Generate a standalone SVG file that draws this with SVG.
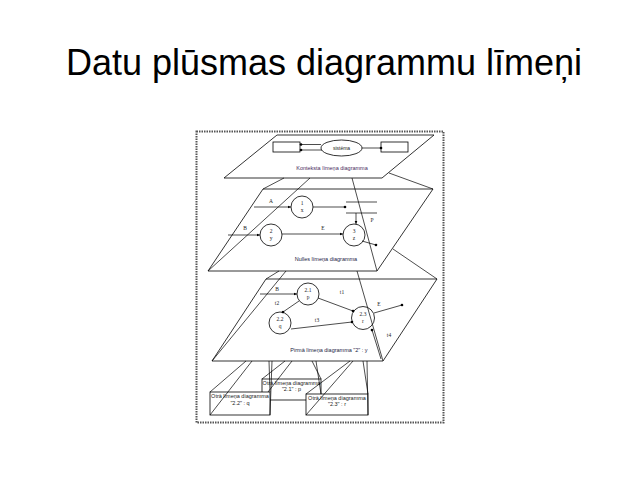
<svg xmlns="http://www.w3.org/2000/svg" width="638" height="478" viewBox="0 0 638 478">
<style>
.pl{fill:#fff;stroke:#000;stroke-width:0.8}
.bx{fill:#fff;stroke:#000;stroke-width:0.8}
.nd{fill:#fff;stroke:#000;stroke-width:0.8}
.ln{stroke:#000;stroke-width:0.7;fill:none}
.fl{stroke:#000;stroke-width:0.7;fill:none;marker-end:url(#ah)}
.fd{stroke:#000;stroke-width:0.7;fill:none;marker-end:url(#dot)}
.t{font-family:"Liberation Sans",Arial,sans-serif;font-size:5.5px;fill:#222;text-anchor:middle}
.s{font-family:"Liberation Serif","Times New Roman",serif;font-size:5.5px;fill:#222;text-anchor:middle}
</style>
<defs>
<marker id="ah" markerWidth="4" markerHeight="4" refX="3.5" refY="2" orient="auto" markerUnits="userSpaceOnUse"><path d="M0,0.5 L3.5,2 L0,3.5 Z" fill="#000"/></marker>
<marker id="dot" markerWidth="4" markerHeight="4" refX="2" refY="2" orient="auto" markerUnits="userSpaceOnUse"><circle cx="2" cy="2" r="1.3" fill="#000"/></marker>
</defs>
<rect width="638" height="478" fill="#fff"/>
<text x="324" y="75" font-family="Liberation Sans, Arial, sans-serif" font-size="36" text-anchor="middle" fill="#000">Datu plūsmas diagrammu līmeņi</text>
<rect id="frame" x="196.5" y="131.5" width="247" height="291" fill="none" stroke="#555" stroke-width="2" stroke-dasharray="1.5,1"/>

<g id="plane-context">
<polygon class="pl" points="277,135 434,135 382,178 224,178"/>
<text class="t" x="332" y="170" style="fill:#4a2a60">Konteksta līmeņa diagramma</text>
</g>
<g id="ext-left"><rect class="bx" x="273" y="142" width="27" height="10"/></g>
<g id="sistema"><ellipse class="nd" cx="341.5" cy="148" rx="20.5" ry="8"/><text class="t" x="341.5" y="149.5" style="font-size:5px">sistēma</text></g>
<g id="ext-right"><rect class="bx" x="381" y="142" width="27" height="10"/></g>

<g id="plane-0">
<polygon class="pl" points="263,189 433,189 377,271 208,271"/>
<text class="t" x="326" y="261" style="fill:#222244">Nulles līmeņa diagramma</text>
</g>
<g id="p1"><circle class="nd" cx="302" cy="207" r="11"/><text class="s" x="302" y="205">1</text><text class="s" x="302" y="211.5">x</text></g>
<g id="p2"><circle class="nd" cx="271" cy="235" r="11"/><text class="s" x="271" y="233">2</text><text class="s" x="271" y="239.5">y</text></g>
<g id="p3"><circle class="nd" cx="354" cy="235" r="11"/><text class="s" x="354" y="233">3</text><text class="s" x="354" y="239.5">z</text></g>
<g id="store"><line class="ln" x1="346" y1="202" x2="377" y2="202"/><line class="ln" x1="346" y1="213" x2="377" y2="213"/></g>

<g id="plane-1">
<polygon class="pl" points="266,279 437,279 383,361 212,361"/>
<text class="t" x="329" y="352" style="fill:#222244">Pirmā līmeņa diagramma "2" : y</text>
</g>
<g id="p21"><circle class="nd" cx="308" cy="294" r="11"/><text class="s" x="308" y="292">2.1</text><text class="s" x="308" y="298.5">p</text></g>
<g id="p22"><circle class="nd" cx="280" cy="323" r="11"/><text class="s" x="280" y="321">2.2</text><text class="s" x="280" y="327.5">q</text></g>
<g id="p23"><circle class="nd" cx="363" cy="318" r="11.5"/><text class="s" x="363" y="316">2.3</text><text class="s" x="363" y="322.5">r</text></g>

<g id="box21"><rect class="bx" x="262" y="379" width="59" height="21"/><text class="t" x="291.5" y="385">Otrā līmeņa diagramma</text><text class="t" x="291.5" y="391">"2.1" : p</text></g>
<g id="box22"><rect class="bx" x="210" y="392" width="60" height="23"/><text class="t" x="240" y="398">Otrā līmeņa diagramma</text><text class="t" x="240" y="405">"2.2" : q</text></g>
<g id="box23"><rect class="bx" x="306" y="394" width="62" height="21"/><text class="t" x="337" y="400">Otrā līmeņa diagramma</text><text class="t" x="337" y="406">"2.3" : r</text></g>

<g id="connectors">
<!-- context level -->
<line class="fd" x1="321" y1="144.5" x2="301" y2="144.5"/>
<line class="fd" x1="322" y1="150" x2="301" y2="150"/>
<line class="fd" x1="362" y1="148" x2="381" y2="148"/>
<!-- projection lines -->
<line class="ln" x1="284" y1="178" x2="263" y2="189"/>
<line class="ln" x1="310" y1="178" x2="208" y2="271"/>
<line class="ln" x1="352" y1="178" x2="377" y2="271"/>
<line class="ln" x1="389" y1="173" x2="433" y2="189"/>
<line class="ln" x1="279" y1="271" x2="266" y2="279"/>
<line class="ln" x1="286" y1="271" x2="212" y2="361"/>
<line class="ln" x1="357" y1="271" x2="383" y2="361"/>
<line class="ln" x1="393" y1="249" x2="437" y2="279"/>
<line class="ln" x1="246" y1="361" x2="210" y2="392"/>
<line class="ln" x1="252" y1="361" x2="210" y2="415"/>
<line class="ln" x1="269" y1="361" x2="270" y2="392"/>
<line class="ln" x1="272" y1="361" x2="270" y2="415"/>
<line class="ln" x1="285" y1="361" x2="262" y2="379"/>
<line class="ln" x1="292" y1="361" x2="268" y2="392"/>
<line class="ln" x1="312" y1="361" x2="321" y2="379"/>
<line class="ln" x1="316" y1="361" x2="321" y2="394"/>
<line class="ln" x1="350" y1="361" x2="306" y2="394"/>
<line class="ln" x1="353" y1="361" x2="306" y2="415"/>
<line class="ln" x1="363" y1="361" x2="368" y2="394"/>
<line class="ln" x1="367" y1="361" x2="368" y2="415"/>
<!-- level 0 flows -->
<line class="fl" x1="254" y1="207" x2="291" y2="207"/>
<line class="fd" x1="313" y1="207" x2="345" y2="207"/>
<line class="fl" x1="356" y1="213" x2="356" y2="224"/>
<line class="fd" x1="362" y1="241" x2="376" y2="245"/>
<line class="fl" x1="228" y1="235" x2="260" y2="235"/>
<line class="fl" x1="282" y1="234" x2="343" y2="234"/>
<!-- level 1 flows -->
<line class="fl" x1="260" y1="294" x2="297" y2="294"/>
<line class="fd" x1="318" y1="298" x2="353" y2="311"/>
<line class="fd" x1="299" y1="301" x2="283" y2="312"/>
<line class="fd" x1="291" y1="329" x2="352" y2="322"/>
<line class="fd" x1="374" y1="313" x2="402" y2="305"/>
<line class="fd" x1="381" y1="359" x2="372" y2="330"/>
</g>
<g id="labels">
<text class="s" x="271" y="203">A</text>
<text class="s" x="245" y="230">B</text>
<text class="s" x="323" y="230">E</text>
<text class="s" x="372" y="222">P</text>
<text class="s" x="277" y="291">B</text>
<text class="s" x="342" y="294">t1</text>
<text class="s" x="277" y="305">t2</text>
<text class="s" x="317" y="322">t3</text>
<text class="s" x="379" y="306">E</text>
<text class="s" x="389" y="337">t4</text>
</g>
</svg>
